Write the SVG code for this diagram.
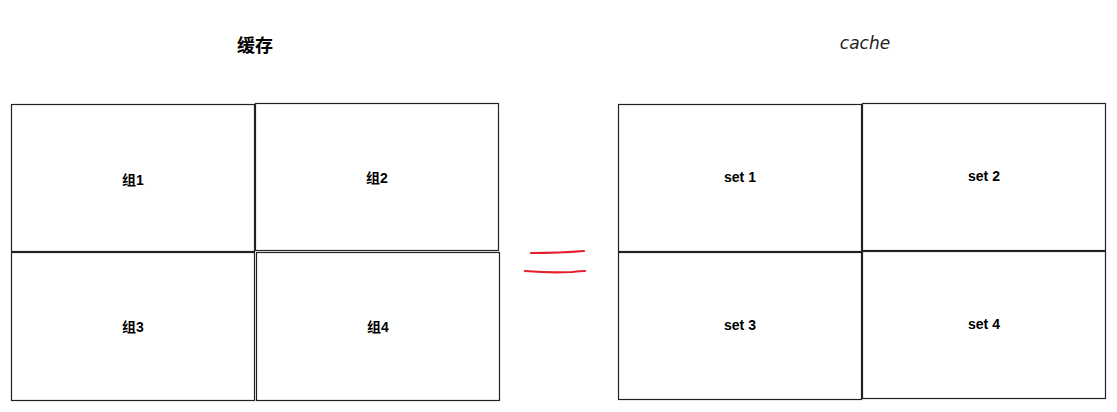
<svg xmlns="http://www.w3.org/2000/svg" width="1117" height="412" viewBox="0 0 1117 412">
<style>
.b{fill:#fff;stroke:#222;stroke-width:1.2}
.t{font-family:"Liberation Sans","Noto Sans CJK SC",sans-serif;font-size:14px;font-weight:bold;text-anchor:middle;fill:#000}
.r{fill:none;stroke:#e5202e;stroke-width:2.2;stroke-linecap:round}
</style>
<rect width="1117" height="412" fill="#fff"/>
<text x="255" y="52" class="t" style="font-size:18px">缓存</text>
<text x="865" y="49" style="font-family:'Comic Sans MS','DejaVu Sans',sans-serif;font-style:italic;font-size:17px;text-anchor:middle;fill:#222">cache</text>
<g id="g1"><rect class="b" x="11.5" y="104.5" width="243" height="147"/><text class="t" x="133" y="185">组1</text></g>
<g id="g2"><rect class="b" x="255.5" y="103.5" width="243" height="147"/><text class="t" x="377" y="183">组2</text></g>
<g id="g3"><rect class="b" x="11.5" y="252.5" width="243" height="148"/><text class="t" x="133" y="332">组3</text></g>
<g id="g4"><rect class="b" x="256.5" y="252.5" width="243" height="148"/><text class="t" x="378" y="332">组4</text></g>
<g id="s1"><rect class="b" x="618.5" y="104.5" width="243" height="147"/><text class="t" x="740" y="182">set 1</text></g>
<g id="s2"><rect class="b" x="862.5" y="103.5" width="243" height="147"/><text class="t" x="984" y="181">set 2</text></g>
<g id="s3"><rect class="b" x="618.5" y="252.5" width="243" height="147"/><text class="t" x="740" y="330">set 3</text></g>
<g id="s4"><rect class="b" x="862.5" y="251.5" width="243" height="147"/><text class="t" x="984" y="329">set 4</text></g>
<g id="connectors">
<path class="r" d="M531 253 Q560 253 584 251"/>
<path class="r" d="M525 271 Q550 273 572 272 Q580 271 585 271"/>
</g>
</svg>
